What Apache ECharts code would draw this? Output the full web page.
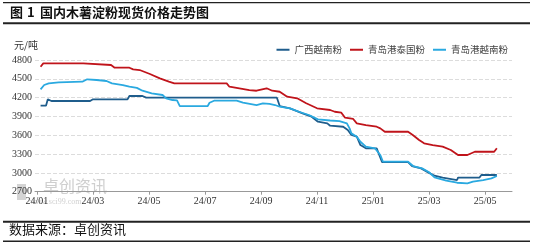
<!DOCTYPE html>
<html>
<head>
<meta charset="utf-8">
<script src="https://cdn.jsdelivr.net/npm/echarts@6/dist/echarts.min.js"></script>
<style>html,body{margin:0;padding:0;background:#fff;}#c{width:533px;height:246px;}</style>
</head>
<body>
<div id="c"></div>
<script>
const seriesNames = ['广西越南粉', '青岛港泰国粉', '青岛港越南粉'];
const xTickLabels = ['24/01', '24/03', '24/05', '24/07', '24/09', '24/11', '25/01', '25/03', '25/05'];
const xTickMonths = [0, 2, 4, 6, 8, 10, 12, 14, 16];

const gxDates = ['2024-01-05','2024-01-11','2024-01-13','2024-01-17','2024-02-27','2024-03-01','2024-04-08','2024-04-10','2024-04-24','2024-04-28','2024-09-18','2024-09-21','2024-10-02','2024-10-16','2024-10-26','2024-11-02','2024-11-12','2024-11-15','2024-11-29','2024-12-04','2024-12-08','2024-12-14','2024-12-18','2024-12-24','2025-01-05','2025-01-11','2025-02-08','2025-02-12','2025-02-21','2025-03-01','2025-03-07','2025-03-16','2025-04-01','2025-04-02','2025-04-25','2025-04-27','2025-05-14'];
const gxPrices = [4071,4071,4173,4146,4146,4173,4173,4226,4226,4199,4199,4066,4030,3950,3896,3816,3790,3752,3736,3683,3604,3577,3444,3392,3392,3170,3170,3109,3072,3000,2955,2923,2886,2926,2926,2966,2966];

const tgDates = ['2024-01-05','2024-01-08','2024-02-20','2024-02-22','2024-03-21','2024-03-25','2024-04-10','2024-04-14','2024-04-21','2024-05-02','2024-05-13','2024-05-23','2024-05-29','2024-07-25','2024-07-28','2024-08-19','2024-08-27','2024-09-07','2024-09-13','2024-09-21','2024-09-29','2024-10-10','2024-10-20','2024-11-01','2024-11-15','2024-11-20','2024-11-27','2024-12-01','2024-12-10','2024-12-14','2024-12-24','2025-01-05','2025-01-07','2025-01-09','2025-01-14','2025-02-08','2025-02-13','2025-02-19','2025-02-24','2025-03-05','2025-03-16','2025-03-25','2025-04-02','2025-04-12','2025-04-20','2025-05-11','2025-05-14'];
const tgPrices = [4693,4747,4747,4720,4720,4677,4677,4650,4640,4577,4508,4454,4428,4428,4374,4321,4310,4349,4310,4294,4215,4189,4110,4030,4003,3975,3960,3880,3860,3790,3763,3736,3750,3710,3656,3656,3600,3524,3471,3444,3418,3365,3285,3285,3337,3337,3392];

const qyDates = ['2024-01-05','2024-01-09','2024-01-14','2024-01-25','2024-02-19','2024-02-24','2024-03-05','2024-03-16','2024-03-22','2024-04-03','2024-04-10','2024-04-18','2024-04-24','2024-05-04','2024-05-16','2024-05-20','2024-05-27','2024-06-01','2024-06-04','2024-07-04','2024-07-06','2024-07-11','2024-08-05','2024-08-12','2024-08-27','2024-09-03','2024-09-10','2024-09-16','2024-09-21','2024-10-02','2024-10-12','2024-10-23','2024-11-02','2024-11-15','2024-11-25','2024-12-03','2024-12-06','2024-12-08','2024-12-14','2024-12-18','2024-12-24','2025-01-03','2025-01-09','2025-01-12','2025-02-08','2025-02-13','2025-02-22','2025-03-01','2025-03-07','2025-03-20','2025-04-01','2025-04-12','2025-04-18','2025-04-29','2025-05-08','2025-05-14'];
const qyPrices = [4332,4401,4428,4444,4454,4492,4481,4465,4428,4401,4374,4355,4310,4269,4242,4189,4162,4155,4066,4066,4119,4151,4151,4119,4082,4109,4100,4082,4055,4030,3975,3923,3854,3835,3825,3790,3710,3630,3577,3497,3418,3392,3285,3178,3178,3109,3072,3010,2929,2875,2843,2833,2859,2886,2912,2950];

function monthIndex(s) {
  const p = s.split('-').map(Number);
  const dim = new Date(p[0], p[1], 0).getDate();
  return (p[0] - 2024) * 12 + (p[1] - 1) + (p[2] - 1) / dim;
}
function pairs(dates, vals) { return dates.map((d, i) => [monthIndex(d), vals[i]]); }

const serif = "'Liberation Serif', 'DejaVu Serif', serif";
const cjk = "'Noto Sans CJK SC', sans-serif";
const colors = ['#1f5d8c', '#c0141b', '#2aa9e0'];

const chart = echarts.init(document.getElementById('c'), null, {renderer: 'canvas'});
chart.setOption({
  animation: false,
  backgroundColor: '#fff',
  color: colors,
  grid: {left: 35, right: 21, top: 60, bottom: 54.3},
  legend: {
    data: seriesNames,
    right: 20, top: 40,
    icon: 'rect', itemWidth: 13, itemHeight: 2, itemGap: 8,
    textStyle: {fontFamily: cjk, fontSize: 9.5, color: '#444'}
  },
  xAxis: {
    type: 'value', min: -0.07, max: 16.96,
    axisLine: {lineStyle: {color: '#999', width: 1}},
    axisTick: {show: true, length: 3, lineStyle: {color: '#999'}, customValues: xTickMonths},
    splitLine: {show: false},
    axisLabel: {
      customValues: xTickMonths, margin: 5,
      fontFamily: serif, fontSize: 10, color: '#333',
      formatter: v => xTickLabels[xTickMonths.indexOf(Math.round(v))] || ''
    }
  },
  yAxis: {
    type: 'value', min: 2700, max: 4800, interval: 300,
    axisLine: {show: false}, axisTick: {show: false},
    splitLine: {lineStyle: {color: '#dcdcdc', type: 'dashed', width: 1}},
    axisLabel: {margin: 3, fontFamily: serif, fontSize: 10, color: '#333', formatter: v => String(v)}
  },
  series: [
    {name: seriesNames[0], type: 'line', symbol: 'none', data: pairs(gxDates, gxPrices), lineStyle: {width: 1.8}},
    {name: seriesNames[1], type: 'line', symbol: 'none', data: pairs(tgDates, tgPrices), lineStyle: {width: 1.8}},
    {name: seriesNames[2], type: 'line', symbol: 'none', data: pairs(qyDates, qyPrices), lineStyle: {width: 1.8}}
  ],
  graphic: [
    {type: 'rect', shape: {x: 3, y: 2, width: 527, height: 1.2}, style: {fill: '#222'}},
    {type: 'rect', shape: {x: 3, y: 22.3, width: 527, height: 2}, style: {fill: '#222'}},
    {type: 'rect', shape: {x: 3, y: 220.8, width: 527, height: 2}, style: {fill: '#222'}},
    {type: 'rect', shape: {x: 3, y: 240.5, width: 527, height: 1.6}, style: {fill: '#222'}},
    {type: 'text', left: 10, top: 6, style: {text: '图', font: "bold 13px " + cjk, fill: '#111'}},
    {type: 'text', left: 27, top: 6, style: {text: '1', font: "bold 13px " + cjk, fill: '#111'}},
    {type: 'text', left: 40, top: 6, style: {text: '国内木薯淀粉现货价格走势图', font: "bold 13px " + cjk, fill: '#111'}},
    {type: 'text', left: 14, top: 40, style: {text: '元/吨', font: "10px " + cjk, fill: '#333'}},
    {type: 'text', left: 9, top: 223, style: {text: '数据来源：卓创资讯', font: "13px " + cjk, fill: '#111'}},
    {type: 'rect', z: -1, shape: {x: 17, y: 184, width: 9, height: 16}, style: {fill: '#d4d4d4'}},
    {type: 'text', z: -1, left: 43, top: 178, style: {text: '卓创资讯', font: "16px " + cjk, fill: '#cfcfcf'}},
    {type: 'text', z: -1, left: 30, top: 198, style: {text: 'www.sci99.com', font: "8px " + serif, fill: '#d0d0d0'}}
  ]
});
</script>
</body>
</html>
